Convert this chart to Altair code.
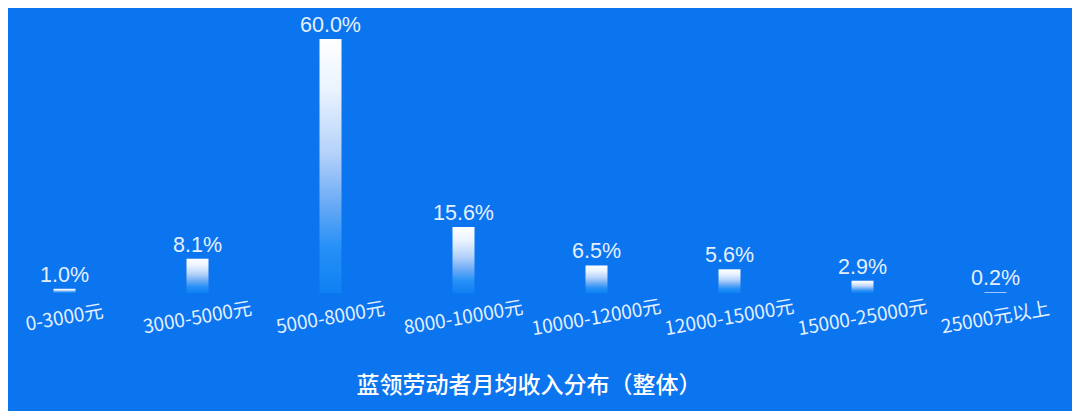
import altair as alt
import pandas as pd

categories = ["0-3000元", "3000-5000元", "5000-8000元", "8000-10000元",
              "10000-12000元", "12000-15000元", "15000-25000元", "25000元以上"]
values = [1.0, 8.1, 60.0, 15.6, 6.5, 5.6, 2.9, 0.2]
value_labels = ["1.0%", "8.1%", "60.0%", "15.6%", "6.5%", "5.6%", "2.9%", "0.2%"]
title_text = ["蓝领劳动者月均收入分布（整体）"]

df = pd.DataFrame({"cat": categories, "val": values, "label": value_labels})
tdf = pd.DataFrame({"t": title_text})

BG = "#0b74ef"

x = alt.X("cat:N", sort=categories,
          scale=alt.Scale(range=[-10, 1054], paddingInner=0, paddingOuter=0),
          axis=None)
y = alt.Y("val:Q", scale=alt.Scale(domain=[0, 60], range=[285, 31]), axis=None)

grad = alt.Gradient(
    gradient="linear",
    stops=[
        alt.GradientStop(color="#ffffff", offset=0),
        alt.GradientStop(color="#eaf3ff", offset=0.2),
        alt.GradientStop(color="#b4d2fa", offset=0.45),
        alt.GradientStop(color="#6aaaf5", offset=0.65),
        alt.GradientStop(color="#2590f7", offset=0.82),
        alt.GradientStop(color="#0f80f3", offset=1),
    ],
    x1=0, x2=0, y1=0, y2=1,
)

base = alt.Chart(df)

bars = base.mark_bar(size=22, color=grad).encode(x=x, y=y)

vals = base.mark_text(baseline="alphabetic", dy=-7, fontSize=21.5,
                      font="Liberation Sans", color="#e4f0ff").encode(
    x=x, y=y, text="label:N")

cats = base.mark_text(angle=350, fontSize=19, font="Noto Sans CJK SC",
                      color="#e4f0ff", align="center", baseline="middle").encode(
    x=x, y=alt.value(310), text="cat:N")

title = alt.Chart(tdf).mark_text(fontSize=23, font="Noto Sans CJK SC",
                                 fontWeight=500, color="#ffffff").encode(
    x=alt.value(521), y=alt.value(378), text="t:N")

chart = alt.layer(bars, vals, cats, title).properties(
    width=1064, height=403,
    autosize=alt.AutoSizeParams(type="none"),
    padding=0,
    background=BG,
).configure_view(stroke=None)

chart.save("out.html", embed_options={"renderer": "svg", "actions": False})
